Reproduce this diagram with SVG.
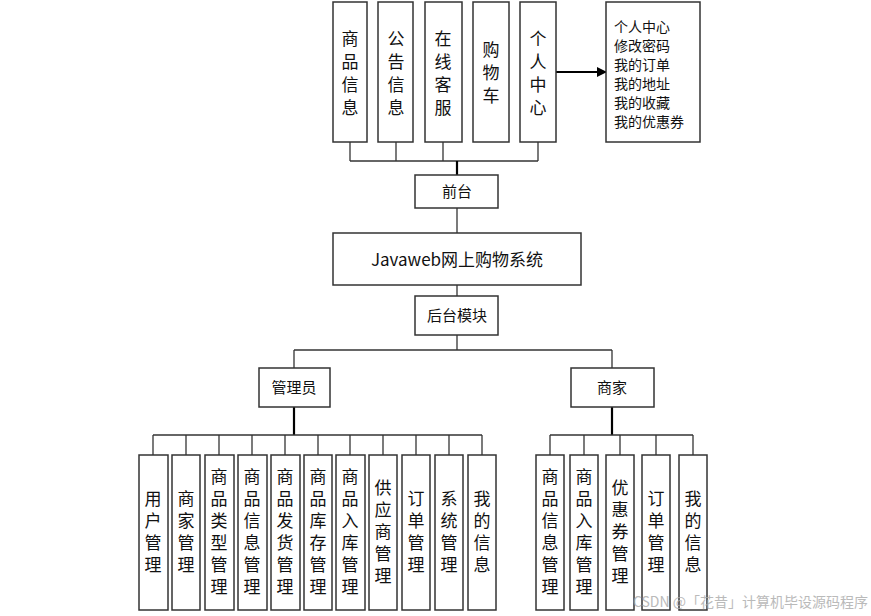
<svg xmlns="http://www.w3.org/2000/svg" width="871" height="616" viewBox="0 0 871 616">
<style>
rect{fill:#fff;stroke:#333;stroke-width:1.5}
text{font-family:"Noto Sans CJK SC","Liberation Sans",sans-serif;font-size:17px;fill:#111;text-anchor:middle}
.c line{stroke:#333;stroke-width:1.3}
.b{stroke-width:2.2!important;stroke:#000!important}
.s{font-size:14px;text-anchor:start}
</style>
<defs><marker id="a" markerWidth="10" markerHeight="10" refX="9" refY="5" orient="auto" markerUnits="userSpaceOnUse"><path d="M0,0L10,5L0,10z" fill="#000"/></marker></defs>
<g class="c">
<line x1="350" y1="142" x2="350" y2="161"/><line x1="396" y1="142" x2="396" y2="161"/><line x1="443" y1="142" x2="443" y2="161"/><line x1="538" y1="142" x2="538" y2="161"/>
<line x1="350" y1="161" x2="538" y2="161"/><line class="b" x1="457" y1="161" x2="457" y2="175"/>
<line x1="556" y1="72" x2="606" y2="72" class="b" marker-end="url(#a)"/>
<line x1="457" y1="208" x2="457" y2="233"/><line x1="457" y1="285" x2="457" y2="296"/><line x1="457" y1="335" x2="457" y2="350"/>
<line x1="294" y1="350" x2="612" y2="350"/><line x1="294" y1="350" x2="294" y2="368"/><line x1="612" y1="350" x2="612" y2="368"/>
<line class="b" x1="294" y1="407" x2="294" y2="435"/><line class="b" x1="612" y1="407" x2="612" y2="435"/>
<line x1="153" y1="435" x2="482" y2="435"/><line x1="550" y1="435" x2="693" y2="435"/>
<line x1="153" y1="435" x2="153" y2="455"/><line x1="186" y1="435" x2="186" y2="455"/><line x1="219" y1="435" x2="219" y2="455"/><line x1="252" y1="435" x2="252" y2="455"/><line x1="285" y1="435" x2="285" y2="455"/><line x1="318" y1="435" x2="318" y2="455"/><line x1="350" y1="435" x2="350" y2="455"/><line x1="383" y1="435" x2="383" y2="455"/><line x1="416" y1="435" x2="416" y2="455"/><line x1="449" y1="435" x2="449" y2="455"/><line x1="482" y1="435" x2="482" y2="455"/>
<line x1="550" y1="435" x2="550" y2="455"/><line x1="584" y1="435" x2="584" y2="455"/><line x1="620" y1="435" x2="620" y2="455"/><line x1="656" y1="435" x2="656" y2="455"/><line x1="693" y1="435" x2="693" y2="455"/>
</g>
<g id="t1"><rect x="333" y="2" width="34" height="140"/><text x="350"><tspan x="350" y="45">商</tspan><tspan x="350" y="68">品</tspan><tspan x="350" y="91">信</tspan><tspan x="350" y="114">息</tspan></text></g>
<g id="t2"><rect x="378" y="2" width="35" height="140"/><text><tspan x="396" y="45">公</tspan><tspan x="396" y="68">告</tspan><tspan x="396" y="91">信</tspan><tspan x="396" y="114">息</tspan></text></g>
<g id="t3"><rect x="425" y="2" width="37" height="140"/><text><tspan x="443" y="45">在</tspan><tspan x="443" y="68">线</tspan><tspan x="443" y="91">客</tspan><tspan x="443" y="114">服</tspan></text></g>
<g id="t4"><rect x="473" y="2" width="36" height="140"/><text><tspan x="491" y="56">购</tspan><tspan x="491" y="79">物</tspan><tspan x="491" y="102">车</tspan></text></g>
<g id="t5"><rect x="520" y="2" width="36" height="140"/><text><tspan x="538" y="45">个</tspan><tspan x="538" y="68">人</tspan><tspan x="538" y="91">中</tspan><tspan x="538" y="114">心</tspan></text></g>
<g id="t6"><rect x="606" y="2" width="94" height="140"/><text class="s"><tspan x="614" y="32">个人中心</tspan><tspan x="614" y="51">修改密码</tspan><tspan x="614" y="70">我的订单</tspan><tspan x="614" y="89">我的地址</tspan><tspan x="614" y="108">我的收藏</tspan><tspan x="614" y="127">我的优惠券</tspan></text></g>
<g id="qt"><rect x="415" y="175" width="83" height="33"/><text x="457" y="197" style="font-size:15px">前台</text></g>
<g id="main"><rect x="333" y="233" width="248" height="52"/><text x="457" y="266">Javaweb网上购物系统</text></g>
<g id="ht"><rect x="415" y="296" width="83" height="39"/><text x="457" y="321" style="font-size:15px">后台模块</text></g>
<g id="gly"><rect x="259" y="368" width="71" height="39"/><text x="294" y="393" style="font-size:15px">管理员</text></g>
<g id="sj"><rect x="571" y="368" width="83" height="39"/><text x="612" y="393" style="font-size:15px">商家</text></g>
<g id="admin">
<rect x="139" y="455" width="29" height="155"/><text><tspan x="153" y="505">用</tspan><tspan x="153" y="527">户</tspan><tspan x="153" y="549">管</tspan><tspan x="153" y="571">理</tspan></text>
<rect x="172" y="455" width="28" height="155"/><text><tspan x="186" y="505">商</tspan><tspan x="186" y="527">家</tspan><tspan x="186" y="549">管</tspan><tspan x="186" y="571">理</tspan></text>
<rect x="205" y="455" width="29" height="155"/><text><tspan x="219" y="483">商</tspan><tspan x="219" y="505">品</tspan><tspan x="219" y="527">类</tspan><tspan x="219" y="549">型</tspan><tspan x="219" y="571">管</tspan><tspan x="219" y="593">理</tspan></text>
<rect x="238" y="455" width="29" height="155"/><text><tspan x="252" y="483">商</tspan><tspan x="252" y="505">品</tspan><tspan x="252" y="527">信</tspan><tspan x="252" y="549">息</tspan><tspan x="252" y="571">管</tspan><tspan x="252" y="593">理</tspan></text>
<rect x="271" y="455" width="29" height="155"/><text><tspan x="285" y="483">商</tspan><tspan x="285" y="505">品</tspan><tspan x="285" y="527">发</tspan><tspan x="285" y="549">货</tspan><tspan x="285" y="571">管</tspan><tspan x="285" y="593">理</tspan></text>
<rect x="304" y="455" width="28" height="155"/><text><tspan x="318" y="483">商</tspan><tspan x="318" y="505">品</tspan><tspan x="318" y="527">库</tspan><tspan x="318" y="549">存</tspan><tspan x="318" y="571">管</tspan><tspan x="318" y="593">理</tspan></text>
<rect x="336" y="455" width="29" height="155"/><text><tspan x="350" y="483">商</tspan><tspan x="350" y="505">品</tspan><tspan x="350" y="527">入</tspan><tspan x="350" y="549">库</tspan><tspan x="350" y="571">管</tspan><tspan x="350" y="593">理</tspan></text>
<rect x="369" y="455" width="28" height="155"/><text><tspan x="383" y="494">供</tspan><tspan x="383" y="516">应</tspan><tspan x="383" y="538">商</tspan><tspan x="383" y="560">管</tspan><tspan x="383" y="582">理</tspan></text>
<rect x="402" y="455" width="28" height="155"/><text><tspan x="416" y="505">订</tspan><tspan x="416" y="527">单</tspan><tspan x="416" y="549">管</tspan><tspan x="416" y="571">理</tspan></text>
<rect x="435" y="455" width="28" height="155"/><text><tspan x="449" y="505">系</tspan><tspan x="449" y="527">统</tspan><tspan x="449" y="549">管</tspan><tspan x="449" y="571">理</tspan></text>
<rect x="468" y="455" width="28" height="155"/><text><tspan x="482" y="505">我</tspan><tspan x="482" y="527">的</tspan><tspan x="482" y="549">信</tspan><tspan x="482" y="571">息</tspan></text>
</g>
<g id="merchant">
<rect x="536" y="455" width="28" height="155"/><text><tspan x="550" y="483">商</tspan><tspan x="550" y="505">品</tspan><tspan x="550" y="527">信</tspan><tspan x="550" y="549">息</tspan><tspan x="550" y="571">管</tspan><tspan x="550" y="593">理</tspan></text>
<rect x="570" y="455" width="28" height="155"/><text><tspan x="584" y="483">商</tspan><tspan x="584" y="505">品</tspan><tspan x="584" y="527">入</tspan><tspan x="584" y="549">库</tspan><tspan x="584" y="571">管</tspan><tspan x="584" y="593">理</tspan></text>
<rect x="606" y="455" width="28" height="155"/><text><tspan x="620" y="494">优</tspan><tspan x="620" y="516">惠</tspan><tspan x="620" y="538">券</tspan><tspan x="620" y="560">管</tspan><tspan x="620" y="582">理</tspan></text>
<rect x="642" y="455" width="28" height="155"/><text><tspan x="656" y="505">订</tspan><tspan x="656" y="527">单</tspan><tspan x="656" y="549">管</tspan><tspan x="656" y="571">理</tspan></text>
<rect x="679" y="455" width="28" height="155"/><text><tspan x="693" y="505">我</tspan><tspan x="693" y="527">的</tspan><tspan x="693" y="549">信</tspan><tspan x="693" y="571">息</tspan></text>
</g>
<text x="868" y="607" style="font-size:14px;text-anchor:end;fill:#aaa;opacity:0.8">CSDN @「花昔」计算机毕设源码程序</text>
</svg>
